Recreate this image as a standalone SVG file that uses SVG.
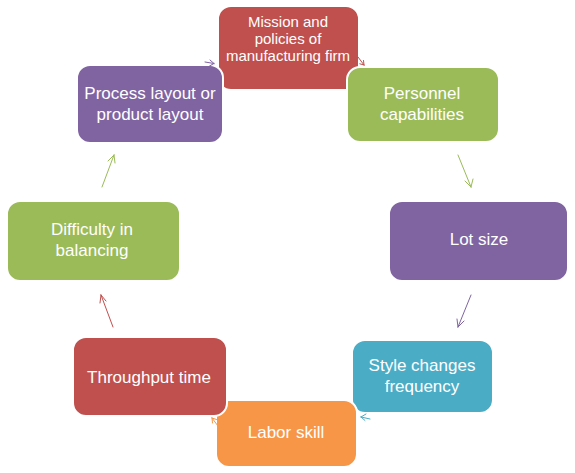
<svg xmlns="http://www.w3.org/2000/svg" width="575" height="473" viewBox="0 0 575 473">
<style>
.box{stroke:#ffffff;stroke-width:2}
.t{font-family:"Liberation Sans",Arial,sans-serif;font-size:17px;fill:#ffffff;text-anchor:middle}
.ts{font-size:15px}
.c{fill:none;stroke-width:1;stroke-linecap:round;stroke-linejoin:round}
</style>
<rect width="575" height="473" fill="#ffffff"/>
<g id="mission">
<rect class="box" x="218" y="6" width="141" height="84" rx="13" fill="#C0504D"/>
<text class="t ts" x="288" y="27">Mission and</text>
<text class="t ts" x="288" y="44">policies of</text>
<text class="t ts" x="288" y="61">manufacturing firm</text>
</g>
<g id="personnel">
<rect class="box" x="347" y="67" width="152" height="75" rx="13" fill="#9BBB59"/>
<text class="t" x="422" y="99">Personnel</text>
<text class="t" x="422" y="120">capabilities</text>
</g>
<g id="lotsize">
<rect class="box" x="389" y="201" width="179" height="80" rx="13" fill="#8064A2"/>
<text class="t" x="479" y="245">Lot size</text>
</g>
<g id="style">
<rect class="box" x="352" y="340" width="141" height="73" rx="13" fill="#4BACC6"/>
<text class="t" x="422" y="371">Style changes</text>
<text class="t" x="422" y="392">frequency</text>
</g>
<g id="labor">
<rect class="box" x="216" y="400" width="141" height="67" rx="13" fill="#F79646"/>
<text class="t" x="286" y="438">Labor skill</text>
</g>
<g id="throughput">
<rect class="box" x="73" y="337" width="154" height="79" rx="13" fill="#C0504D"/>
<text class="t" x="149" y="383">Throughput time</text>
</g>
<g id="difficulty">
<rect class="box" x="7" y="201" width="173" height="80" rx="13" fill="#9BBB59"/>
<text class="t" x="92" y="235">Difficulty in</text>
<text class="t" x="92" y="256">balancing</text>
</g>
<g id="process">
<rect class="box" x="77" y="65" width="146" height="78" rx="13" fill="#8064A2"/>
<text class="t" x="150" y="99">Process layout or</text>
<text class="t" x="150" y="120">product layout</text>
</g>
<g id="connectors">
<path class="c" stroke="#C0504D" d="M358 57 L364 65 M364 65 L363.5 60.5 M364 65 L359.8 63.8"/>
<path class="c" stroke="#9BBB59" d="M458 155 L471 187 M471 187 L465 181 M471 187 L473 179"/>
<path class="c" stroke="#8064A2" d="M471 295 L458 327 M458 327 L457 319 M458 327 L464 321"/>
<path class="c" stroke="#4BACC6" d="M370 419 L361 417 M361 417 L366 414 M361 417 L365 420.5"/>
<path class="c" stroke="#F79646" d="M218 426 L212 418 M212 418 L212.5 423 M212 418 L216.5 419.5"/>
<path class="c" stroke="#C0504D" d="M113 327 L101 295 M101 295 L100 303 M101 295 L106 301"/>
<path class="c" stroke="#9BBB59" d="M102 187 L114 155 M114 155 L108 161 M114 155 L115 163"/>
<path class="c" stroke="#8064A2" d="M205 62 L214 63.5 M214 63.5 L210 60 M214 63.5 L209.5 66"/>
</g>
</svg>
